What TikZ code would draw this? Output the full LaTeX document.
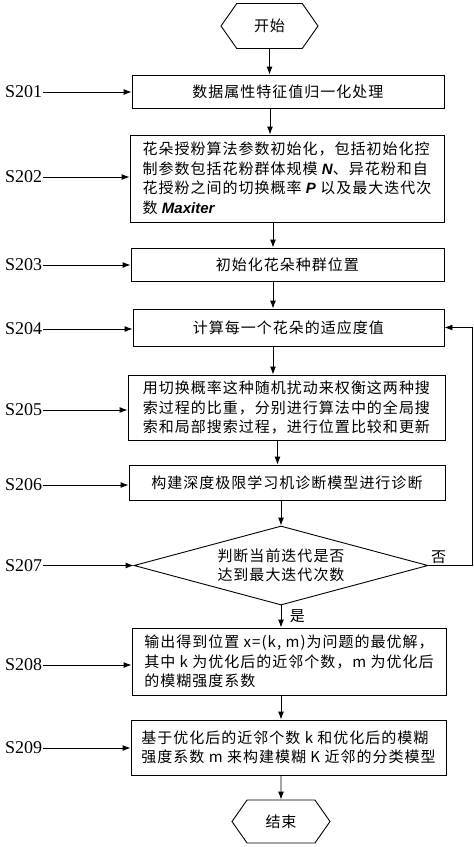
\documentclass[tikz,border=0pt]{standalone}
\usepackage{fontspec}
\usepackage{tikz}
\usetikzlibrary{shapes.geometric, shapes.symbols, arrows.meta, positioning, calc}
\setmainfont{Noto Sans CJK SC}[LetterSpace=6.67]
\newfontfamily\stepfont{Liberation Serif}
\newfontfamily\latinfont{Liberation Sans}
\newcommand\vn[1]{{\latinfont\bfseries\itshape #1}}

\begin{document}
\begin{tikzpicture}[x=1pt, y=-1pt,
    txt/.style={font=\fontsize{15}{19.5}\selectfont},
    box/.style={txt, draw, line width=0.9pt, align=left, inner sep=0pt},
    term/.style={txt, draw, line width=0.9pt, signal, signal to=west and east,
        signal pointer angle=110, minimum width=97pt, minimum height=45pt, inner sep=0pt},
    decide/.style={txt, draw, line width=0.9pt, diamond, aspect=3.7, align=center,
        minimum width=294pt, minimum height=79pt, inner sep=0pt},
    arr/.style={-{Latex[length=8pt,width=6pt]}, line width=0.9pt},
    steplabel/.style={font=\stepfont\fontsize{18}{18}\selectfont, anchor=west, inner sep=1pt}]
    \useasboundingbox (0,0) rectangle (474,847);

    % Flow steps
    \node[term] (start) at (269.5,26) {开始};
    \node[box, minimum width=312pt, minimum height=33pt] (s201) at (288,91.5) {数据属性特征值归一化处理};
    \node[box, minimum width=314pt, minimum height=87pt] (s202) at (287,178.5)
        {花朵授粉算法参数初始化，包括初始化控\\制参数包括花粉群体规模 \vn{N}、异花粉和自\\花授粉之间的切换概率 \vn{P} 以及最大迭代次\\数 \vn{Maxiter}};
    \node[box, minimum width=313pt, minimum height=33pt] (s203) at (287.5,264.5) {初始化花朵种群位置};
    \node[box, minimum width=311pt, minimum height=37pt] (s204) at (288.5,327.5) {计算每一个花朵的适应度值};
    \node[box, minimum width=317pt, minimum height=65pt] (s205) at (286.5,407.5)
        {用切换概率这种随机扰动来权衡这两种搜\\索过程的比重，分别进行算法中的全局搜\\索和局部搜索过程，进行位置比较和更新};
    \node[box, minimum width=316pt, minimum height=35pt] (s206) at (287,482.5) {构建深度极限学习机诊断模型进行诊断};
    \node[decide] (dec) at (281,565.5) {判断当前迭代是否\\达到最大迭代次数};
    \node[box, minimum width=314pt, minimum height=67pt] (s208) at (289,661.5)
        {输出得到位置 x=(k, m)为问题的最优解，\\其中 k 为优化后的近邻个数，m 为优化后\\的模糊强度系数};
    \node[box, minimum width=315pt, minimum height=55pt] (s209) at (288.5,747.5)
        {基于优化后的近邻个数 k 和优化后的模糊\\强度系数 m 来构建模糊 K 近邻的分类模型};
    \node[term, minimum width=98pt, minimum height=43pt] (stop) at (281,821.5) {结束};

    % Step labels
    \node[steplabel] (l201) at (4,92) {S201};
    \node[steplabel] (l202) at (4,177) {S202};
    \node[steplabel] (l203) at (4,265) {S203};
    \node[steplabel] (l204) at (4,329) {S204};
    \node[steplabel] (l205) at (4,410) {S205};
    \node[steplabel] (l206) at (4,485) {S206};
    \node[steplabel] (l207) at (4,565.5) {S207};
    \node[steplabel] (l208) at (4,665) {S208};
    \node[steplabel] (l209) at (4,748) {S209};
    \foreach \n in {201,202,203,204,205,206,208,209}
        \draw[arr] (l\n) -- (s\n.west |- l\n);
    \draw[arr] (l207) -- (dec.west);

    % Main flow
    \coordinate (colA) at (270,0);
    \coordinate (colB) at (273,0);
    \coordinate (colC) at (277.5,0);
    \draw[arr] (start) -- (s201.north -| start);
    \draw[arr] (s201.south -| colA) -- (s202.north -| colA);
    \draw[arr] (s202.south -| colB) -- (s203.north -| colB);
    \draw[arr] (s203.south -| colB) -- (s204.north -| colB);
    \draw[arr] (s204.south -| colB) -- (s205.north -| colB);
    \draw[arr] (s205.south -| colC) -- (s206.north -| colC);
    \draw[arr] (s206.south -| dec) -- (dec.north);
    \draw[arr] (dec) -- node[txt, right=5pt] {是} (s208.north -| dec);
    \draw[arr] (s208.south -| dec) -- (s209.north -| dec);
    \draw[arr] (s209.south -| dec) -- (stop);

    % Loop back
    \draw[arr] (dec.east) -- node[txt, above, pos=0.23, inner sep=1pt] {否} ++(44,0) |- (s204.east);
\end{tikzpicture}
\end{document}
